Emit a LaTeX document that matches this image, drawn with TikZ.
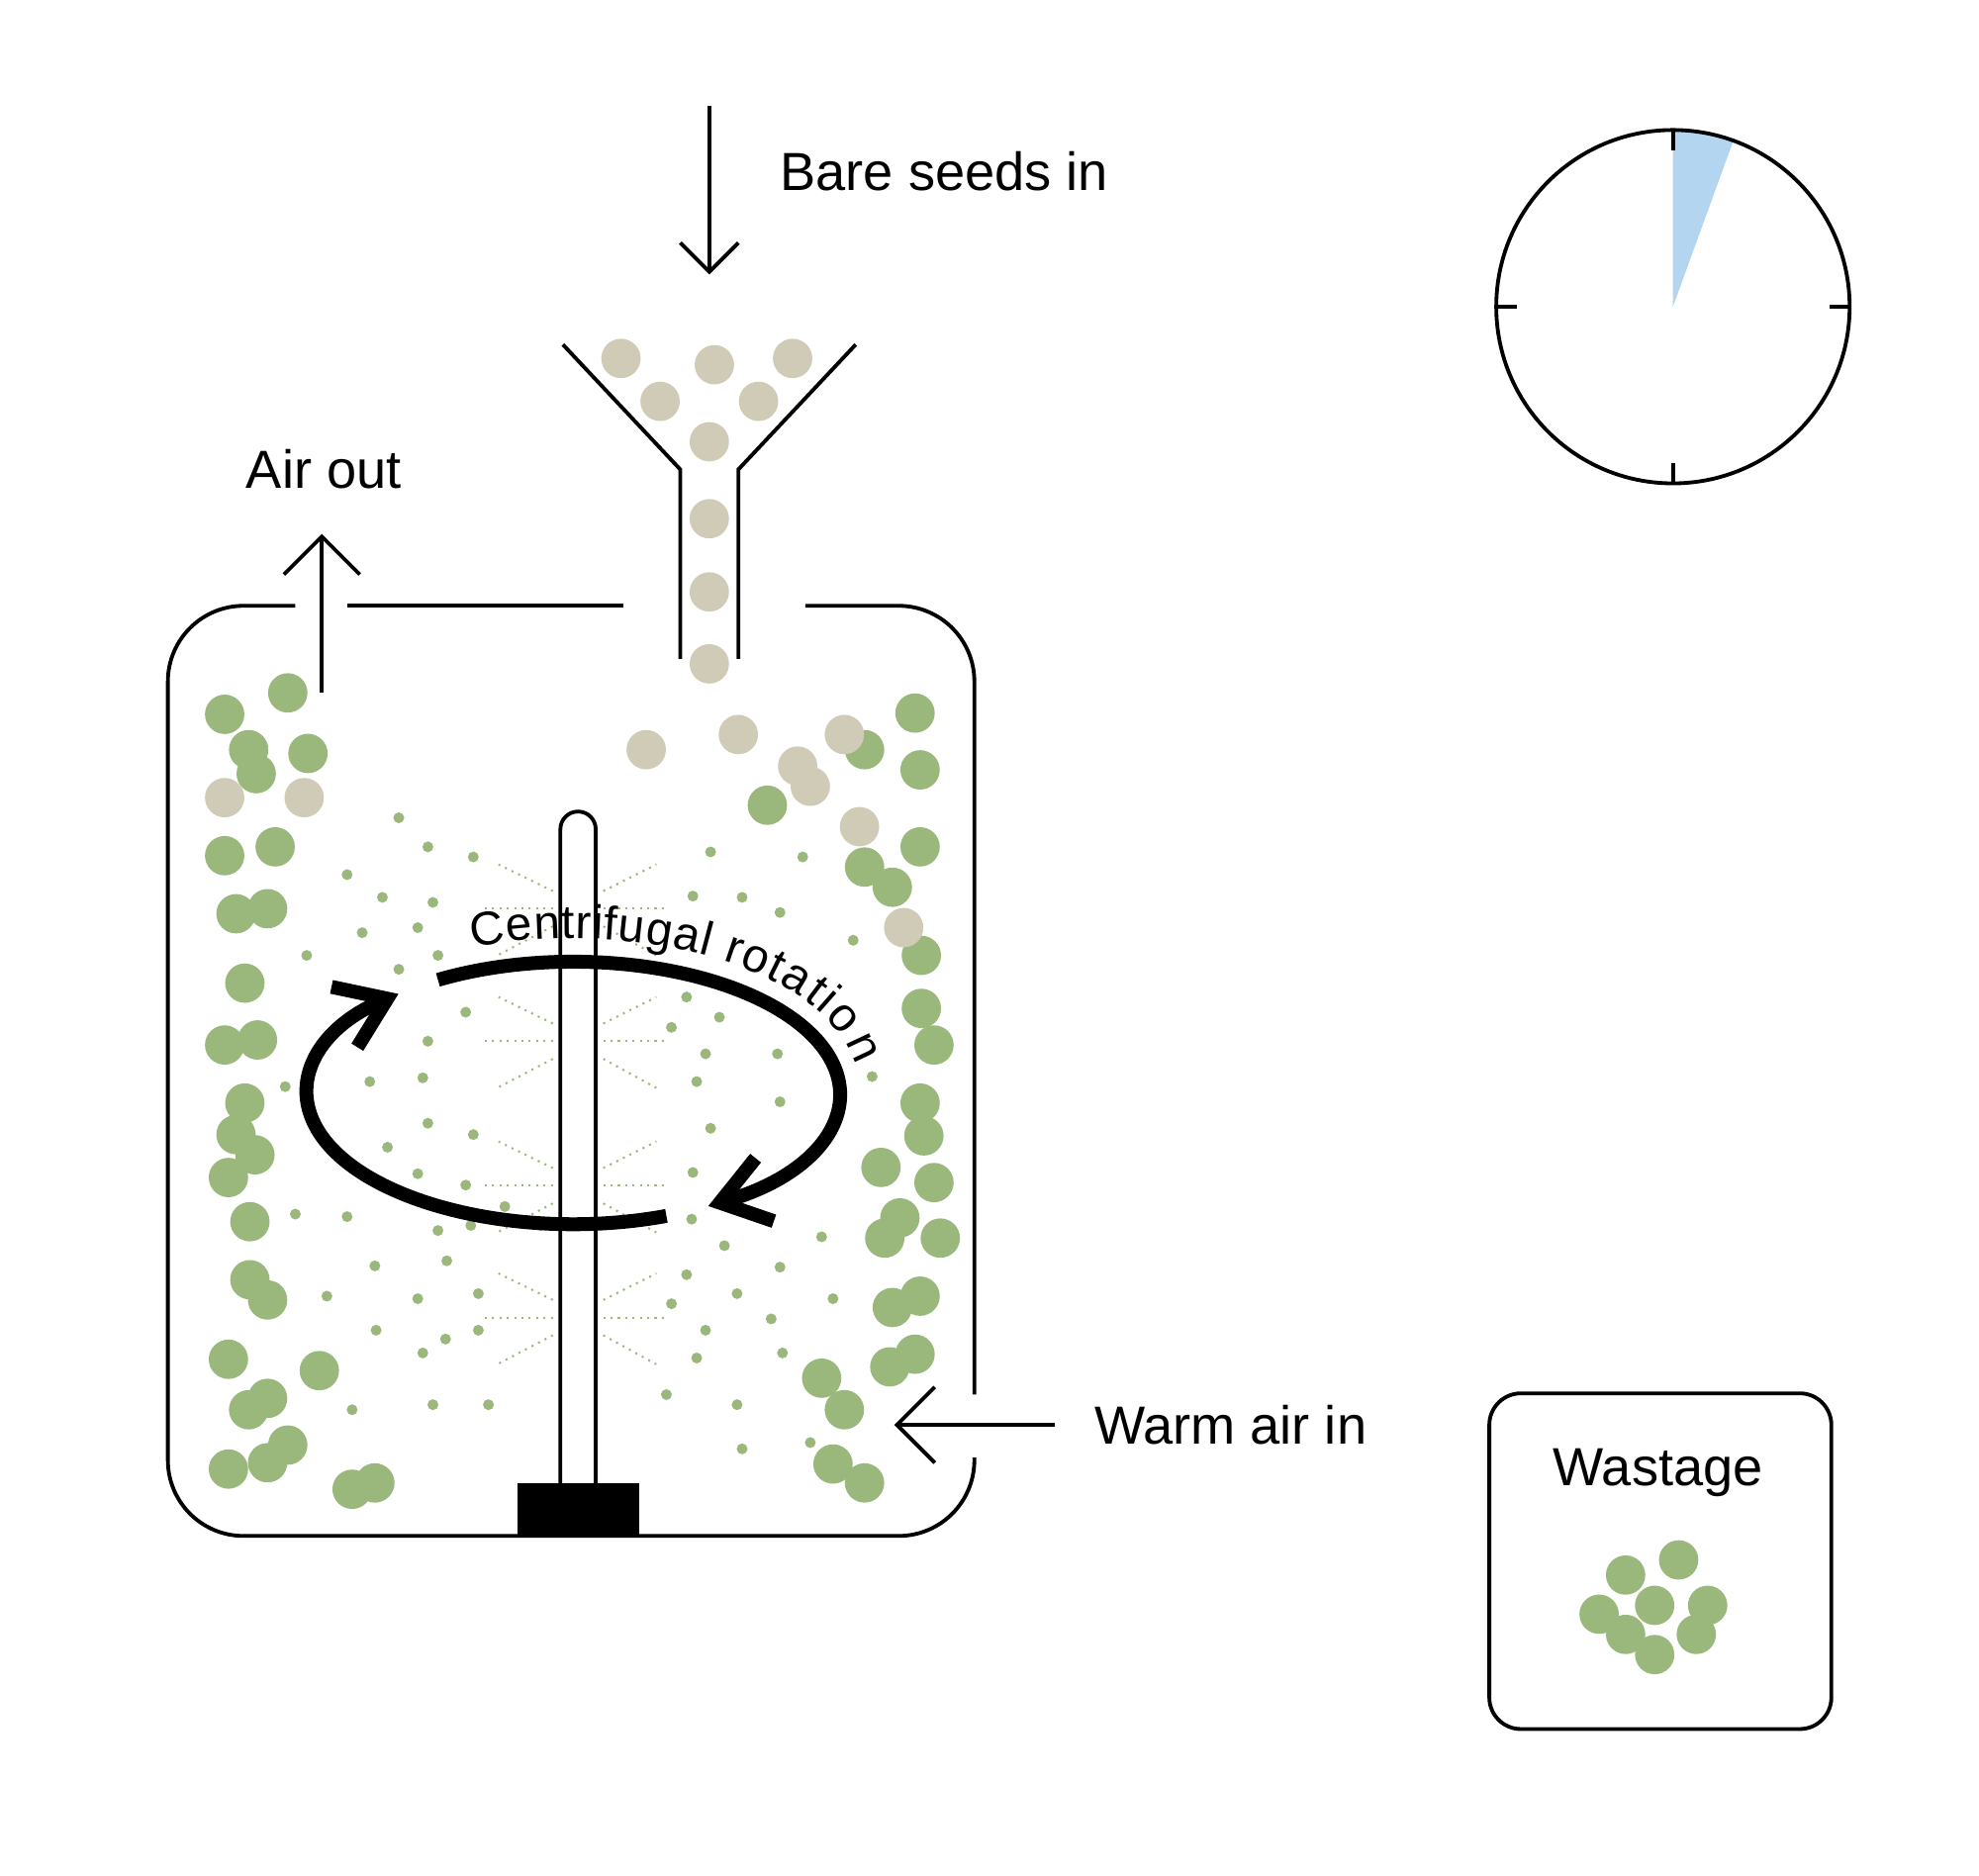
\documentclass[tikz,border=0pt]{standalone}
\usepackage{fontspec}
\setmainfont{Liberation Sans}
\usetikzlibrary{arrows.meta,decorations.text}
\definecolor{leaf}{HTML}{9AB87C}
\definecolor{husk}{HTML}{CFCBB7}
\definecolor{sky}{HTML}{B3D5F0}
\tikzset{
    wall/.style={line width=3pt,line cap=butt},
    flow/.style={line width=3pt},
    label/.style={font=\fontsize{42.5}{46}\selectfont,inner sep=0pt},
    swirl/.style={line width=11pt},
    spray/.style={leaf,line width=1.6pt,dash pattern=on 1.6pt off 4.2pt},
}
\newcommand{\seedsat}[2]{\foreach \x/\y in {#2} \fill[#1] (\x,\y) circle (15.6pt);}
\newcommand{\mistat}[1]{\foreach \x/\y in {#1} \fill[leaf] (\x,\y) circle (4.3pt);}
\begin{document}
\begin{tikzpicture}[x=1pt,y=-1pt]
    \useasboundingbox (0,0) rectangle (1568,1486);
    % spray from the shaft
    \foreach \h in {720,825,939.5,1044}{
        \draw[spray] (438,\h-14)--(395,\h-35);
        \draw[spray] (438,\h)--(384,\h);
        \draw[spray] (438,\h+14)--(394,\h+37);
        \draw[spray] (478,\h-14)--(520,\h-35);
        \draw[spray] (478,\h)--(530,\h);
        \draw[spray] (478,\h+14)--(520,\h+37);
    }
    \mistat{316/648,339/671,375/679,275/693,303/711,343/715,331/735,287/739,243/757,347/757,316/768,369/802,339/825,335/854,293/857,226/861,339/890,375/899,307/909,331/930,369/939,400/956,347/975,373/971,428/971,234/962,275/964,354/999,297/1003,379/1025,331/1029,259/1027,298/1054,379/1054,353/1061,335/1072,343/1113,387/1113,279/1117}
    \mistat{563/675,636/679,549/710,588/711,618/723,676/745,544/790,570/806,532/814,559/835,616/835,552/857,691/853,618/873,563/894,549/929,548/966,651/980,574/987,618/1004,544/1010,584/1025,532/1033,660/1029,611/1045,559/1054,620/1072,552/1076,528/1105,584/1113,642/1143,588/1148}
    % coated seeds
    \seedsat{leaf}{178/566,228/549,197/594,244/597,203/613,178/678,218/671,187/724,212/720,194/779,178/828,204/824,194/874,187/899,202/915,181/933,198/968,198/1014,212/1030,181/1077,253/1086,212/1108,197/1117,228/1145,212/1159,181/1164,279/1180,297/1175}
    \seedsat{leaf}{725/565,685/594,729/610,608/638,729/671,685/687,707/703,730/757,730/799,740/828,729/874,732/900,698/925,740/937,713/965,701/981,745/981,729/1027,707/1036,725/1073,705/1083,651/1092,669/1117,660/1160,685/1175}
    % bare seeds
    \seedsat{husk}{178/632,241/632,512/594,585/582,669/582,632/607,642/623,681/655,716/735}
    \seedsat{husk}{492/284,566/289,628/284,523/318,601/318,562/350,562/411,562/469,562/526}
    % vessel
    \draw[wall,rounded corners=60pt] (234,480)--(133,480)--(133,1217)--(772,1217)--(772,1155);
    \draw[wall] (275,480)--(494,480);
    \draw[wall,rounded corners=60pt] (638,480)--(772,480)--(772,1105);
    % funnel
    \draw[wall] (446,273)--(539,372)--(539,522);
    \draw[wall] (678,273)--(585,372)--(585,522);
    % shaft
    \draw[wall] (444,1176)--(444,657) arc (180:360:14)--(472,1176);
    \fill (410,1175) rectangle (506.5,1217.6);
    % rotation
    \draw[swirl,-{Straight Barb[length=37pt,width=52pt]}] (347,776.4)
        arc[start angle=120.5,end angle=-59.5,x radius=211pt,y radius=104pt];
    \draw[swirl,-{Straight Barb[length=37pt,width=52pt]}] (528,963.4)
        arc[start angle=-69.5,end angle=-229,x radius=211pt,y radius=104pt];
    \path[decorate,decoration={text along path,raise=18pt,
        text={|\fontsize{37.5}{41}\selectfont|Centrifugal rotation}}] (377,768.5)
        arc[start angle=111,end angle=-15,x radius=211pt,y radius=104pt];
    % flows
    \node[label,anchor=base west] (seedsin) at (618,151) {Bare seeds in};
    \coordinate (seedstop) at (562,84);
    \coordinate (seedsend) at (562,217.5);
    \draw[flow,-{Straight Barb[length=23pt,width=46pt]}] (seedstop)--(seedsend);
    \node[label,anchor=base west] (airout) at (195,387) {Air out};
    \coordinate (airstart) at (255,549);
    \coordinate (airend) at (255,423);
    \draw[flow,-{Straight Barb[length=30pt,width=60pt]}] (airstart)--(airend);
    \node[label,anchor=base west] (warmin) at (867,1144) {Warm air in};
    \coordinate (warmstart) at (836,1129);
    \coordinate (warmend) at (708.5,1129);
    \draw[flow,-{Straight Barb[length=30pt,width=60pt]}] (warmstart)--(warmend);
    % clock
    \coordinate (dial) at (1325.5,243);
    \fill[sky] (dial)--(1325.5,103) arc (90:70:140pt)--cycle;
    \draw[wall] (dial) circle (140pt);
    \draw[wall] (1325.5,103)--(1325.5,119);
    \draw[wall] (1325.5,383)--(1325.5,367);
    \draw[wall] (1185.5,243)--(1201.5,243);
    \draw[wall] (1465.5,243)--(1449.5,243);
    % wastage
    \draw[wall,rounded corners=25pt] (1180,1104) rectangle (1451,1370);
    \node[label,anchor=base west] (waste) at (1230.5,1177) {Wastage};
    \seedsat{leaf}{1330/1236,1288/1248,1353/1272,1311/1272,1267/1279,1288/1295,1344/1295,1311/1311}
\end{tikzpicture}
\end{document}
